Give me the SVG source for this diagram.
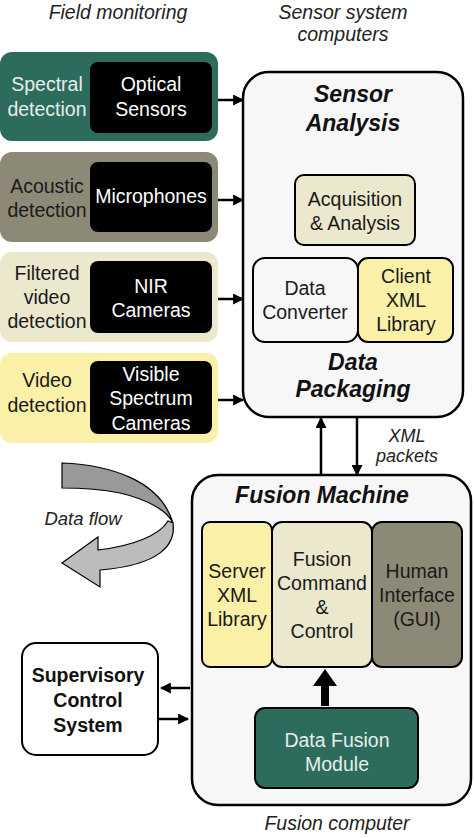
<svg xmlns="http://www.w3.org/2000/svg" width="474" height="838" viewBox="0 0 474 838">
<style>
text{font-family:"Liberation Sans",Arial,sans-serif;font-size:19.5px;text-anchor:middle}
.it{font-style:italic;fill:#222}
.ti{font-style:italic;font-weight:bold;font-size:23px;fill:#111}
.b{font-weight:bold;fill:#111}
.w{fill:#fff}
.wt{fill:#e6efe8}
.dk{fill:#1a1a1a}
.box{stroke:#000;stroke-width:2}
.big{fill:#f7f7f7;stroke:#000;stroke-width:2.5}
.ln{stroke:#000;stroke-width:2.5;fill:none}
</style>
<defs>
<marker id="ah" viewBox="0 0 10 10" refX="9" refY="5" markerWidth="4.4" markerHeight="4.4" orient="auto" markerUnits="strokeWidth">
<path d="M0,0 L10,5 L0,10 Z" fill="#000"/>
</marker>
</defs>
<rect width="474" height="838" fill="#fff"/>

<text class="it" x="118" y="19">Field monitoring</text>
<text class="it" x="343" y="19">Sensor system</text>
<text class="it" x="343" y="41">computers</text>

<g id="spectral">
<rect x="0" y="52" width="218" height="89" rx="12" fill="#2d6b5d"/>
<rect x="90" y="62" width="122" height="71" rx="8" fill="#000"/>
<text class="wt" x="47" y="91">Spectral</text>
<text class="wt" x="47" y="116">detection</text>
<text class="w" x="151" y="91">Optical</text>
<text class="w" x="151" y="116">Sensors</text>
</g>
<g id="acoustic">
<rect x="0" y="152" width="218" height="90" rx="12" fill="#8c8a77"/>
<rect x="90" y="162" width="122" height="70" rx="8" fill="#000"/>
<text class="dk" x="47" y="193">Acoustic</text>
<text class="dk" x="47" y="217">detection</text>
<text class="w" x="151" y="203">Microphones</text>
</g>
<g id="nir">
<rect x="0" y="252" width="218" height="90" rx="12" fill="#ece8cd"/>
<rect x="90" y="261" width="122" height="72" rx="8" fill="#000"/>
<text class="dk" x="47" y="280">Filtered</text>
<text class="dk" x="47" y="304">video</text>
<text class="dk" x="47" y="328">detection</text>
<text class="w" x="151" y="293">NIR</text>
<text class="w" x="151" y="317">Cameras</text>
</g>
<g id="visible">
<rect x="0" y="353" width="218" height="90" rx="12" fill="#fbf0a8"/>
<rect x="90" y="361" width="122" height="73" rx="8" fill="#000"/>
<text class="dk" x="47" y="387">Video</text>
<text class="dk" x="47" y="412">detection</text>
<text class="w" x="151" y="381">Visible</text>
<text class="w" x="151" y="405">Spectrum</text>
<text class="w" x="151" y="430">Cameras</text>
</g>

<g id="sensor-system">
<rect class="big" x="243" y="72" width="220" height="345" rx="26"/>
<text class="ti" x="353" y="102">Sensor</text>
<text class="ti" x="353" y="131">Analysis</text>
<rect class="box" x="295" y="175" width="120" height="70" rx="9" fill="#ece8cd"/>
<text class="dk" x="355" y="206">Acquisition</text>
<text class="dk" x="355" y="230">&amp; Analysis</text>
<rect class="box" x="253" y="258" width="105" height="84" rx="12" fill="#f7f7f7"/>
<text class="dk" x="305" y="295">Data</text>
<text class="dk" x="305" y="319">Converter</text>
<rect class="box" x="358" y="258" width="95" height="84" rx="10" fill="#fbf0a8"/>
<text class="dk" x="406" y="283">Client</text>
<text class="dk" x="406" y="307">XML</text>
<text class="dk" x="406" y="331">Library</text>
<text class="ti" x="353" y="370">Data</text>
<text class="ti" x="353" y="397">Packaging</text>
</g>

<text class="it" x="407" y="442" style="font-size:18px">XML</text>
<text class="it" x="407" y="462" style="font-size:18px">packets</text>

<g id="data-flow">
<path d="M62,463 C110,465 160,480 173,523 C168,512 150,500 120,493 C100,489 80,488 62,488 Z" fill="#999" stroke="#000" stroke-width="1.2"/>
<path d="M173,523 C176,545 160,565 100,570 L100,587 L62,563 L98,537 L98,550 C133,546 160,535 168,521 Z" fill="#bcbcbc" stroke="#000" stroke-width="1.2"/>
<text class="it" x="83" y="525" style="font-size:18.5px">Data flow</text>
</g>

<g id="fusion-machine">
<rect class="big" x="192" y="475" width="279" height="330" rx="26"/>
<text class="ti" x="322" y="503">Fusion Machine</text>
<rect class="box" x="202" y="522" width="70" height="145" rx="8" fill="#fbf0a8"/>
<text class="dk" x="237" y="578">Server</text>
<text class="dk" x="237" y="602">XML</text>
<text class="dk" x="237" y="626">Library</text>
<rect class="box" x="272" y="522" width="100" height="145" rx="10" fill="#ece8cd"/>
<text class="dk" x="322" y="566">Fusion</text>
<text class="dk" x="322" y="590">Command</text>
<text class="dk" x="322" y="614">&amp;</text>
<text class="dk" x="322" y="638">Control</text>
<rect class="box" x="372" y="522" width="90" height="145" rx="10" fill="#8c8a77"/>
<text class="dk" x="417" y="578">Human</text>
<text class="dk" x="417" y="602">Interface</text>
<text class="dk" x="417" y="626">(GUI)</text>
<rect class="box" x="255" y="708" width="163" height="80" rx="10" fill="#2d6b5d"/>
<text class="wt" x="337" y="747">Data Fusion</text>
<text class="wt" x="337" y="771">Module</text>
</g>

<g id="supervisory">
<rect x="22" y="643" width="136" height="112" rx="14" fill="#fff" stroke="#000" stroke-width="2"/>
<text class="b" x="88" y="682">Supervisory</text>
<text class="b" x="88" y="707">Control</text>
<text class="b" x="88" y="732">System</text>
</g>

<text class="it" x="337" y="830">Fusion computer</text>

<g id="connectors">
<line class="ln" x1="218" y1="100" x2="243" y2="100" marker-end="url(#ah)"/>
<line class="ln" x1="218" y1="200" x2="243" y2="200" marker-end="url(#ah)"/>
<line class="ln" x1="218" y1="299" x2="243" y2="299" marker-end="url(#ah)"/>
<line class="ln" x1="218" y1="400" x2="243" y2="400" marker-end="url(#ah)"/>
<line class="ln" x1="321" y1="475" x2="321" y2="418" marker-end="url(#ah)"/>
<line class="ln" x1="357" y1="418" x2="357" y2="475" marker-end="url(#ah)"/>
<line class="ln" x1="190" y1="688" x2="161" y2="688" marker-end="url(#ah)"/>
<line class="ln" x1="158" y1="719" x2="188" y2="719" marker-end="url(#ah)"/>
<path d="M321,706 L321,686 L313,686 L325,669 L337,686 L329,686 L329,706 Z" fill="#000"/>
</g>
</svg>
